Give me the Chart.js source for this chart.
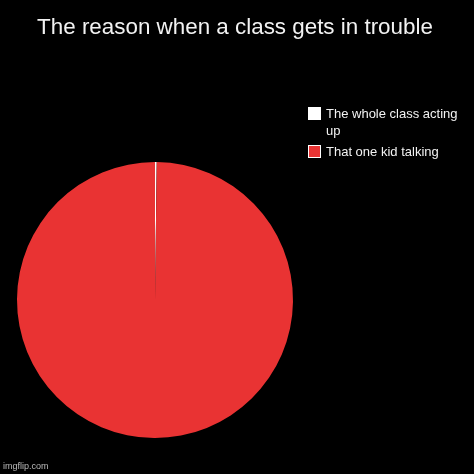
<!DOCTYPE html>
<html>
<head>
<meta charset="utf-8">
<script src="https://cdn.jsdelivr.net/npm/chart.js@4"></script>
<style>
  html, body { margin: 0; padding: 0; background: #000; }
  #wrap { width: 474px; height: 474px; position: relative; }
</style>
</head>
<body>
<div id="wrap"><canvas id="pieChart"></canvas></div>
<script>
const chartTitle = 'The reason when a class gets in trouble';
const labels = ['The whole class acting up', 'That one kid talking'];
const values = [2, 998];
const colors = ['#ffffff', '#e93333'];

// title, wrapped legend and watermark drawn on the canvas
const overlay = {
    id: 'overlay',
    afterDraw(chart) {
        const ctx = chart.ctx;
        ctx.save();
        ctx.fillStyle = '#f2f2f2';
        ctx.font = '22.4px "Liberation Sans", Arial, sans-serif';
        ctx.textAlign = 'center';
        ctx.textBaseline = 'middle';
        ctx.fillText(chartTitle, 235, 28);

        ctx.font = '13px "Liberation Sans", Arial, sans-serif';
        ctx.textAlign = 'left';
        let y = 114;
        const maxW = 140;
        chart.data.labels.forEach((label, i) => {
            const words = label.split(' ');
            const lines = [];
            let cur = '';
            words.forEach(w => {
                const test = cur ? cur + ' ' + w : w;
                if (ctx.measureText(test).width > maxW && cur) {
                    lines.push(cur);
                    cur = w;
                } else {
                    cur = test;
                }
            });
            lines.push(cur);
            ctx.fillStyle = chart.data.datasets[0].backgroundColor[i];
            ctx.fillRect(308, y - 7, 13, 13);
            ctx.strokeStyle = '#ffffff';
            ctx.lineWidth = 1;
            ctx.strokeRect(308.5, y - 6.5, 12, 12);
            ctx.fillStyle = '#f2f2f2';
            lines.forEach((ln, j) => ctx.fillText(ln, 326, y + j * 17));
            y += lines.length * 17 + 4;
        });

        ctx.fillStyle = '#bbbbbb';
        ctx.font = '9px "Liberation Sans", Arial, sans-serif';
        ctx.textBaseline = 'alphabetic';
        ctx.fillText('imgflip.com', 3, 469);
        ctx.restore();
    }
};

const ctx = document.getElementById('pieChart').getContext('2d');
new Chart(ctx, {
    type: 'pie',
    data: {
        labels: labels,
        datasets: [{
            data: values,
            backgroundColor: colors,
            borderWidth: 0
        }]
    },
    options: {
        responsive: true,
        maintainAspectRatio: false,
        animation: false,
        layout: {
            padding: { left: 17, right: 181, top: 162, bottom: 36 }
        },
        plugins: {
            legend: { display: false },
            title: { display: false },
            tooltip: { enabled: false }
        }
    },
    plugins: [overlay]
});
</script>
</body>
</html>
